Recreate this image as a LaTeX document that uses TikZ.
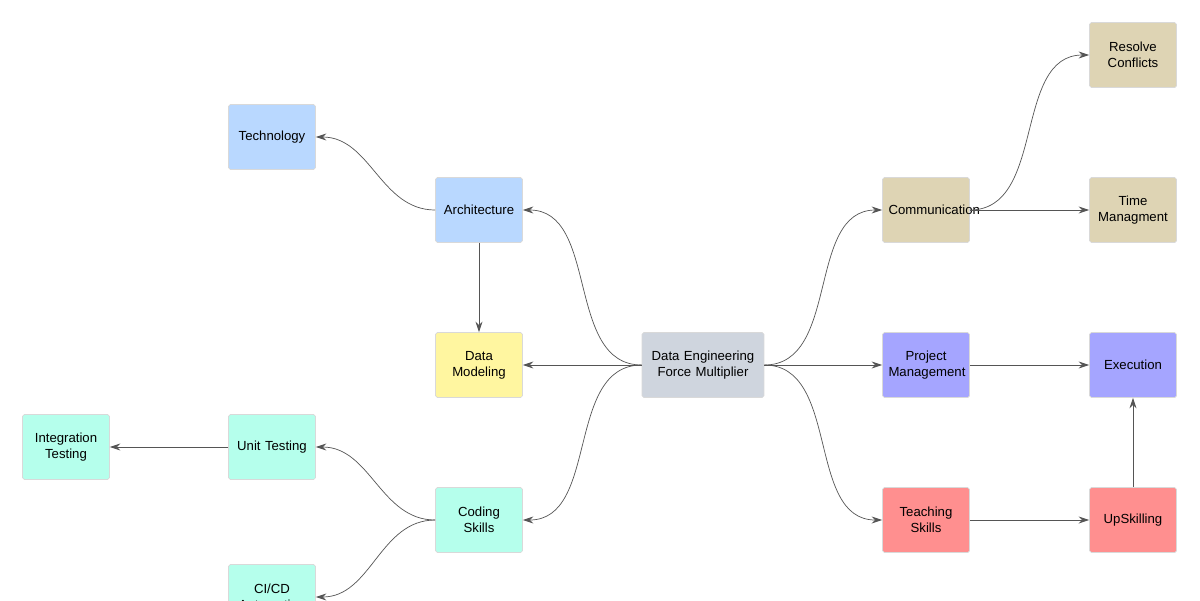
\documentclass[tikz,border=0pt]{standalone}
\usepackage{fontspec}
\setmainfont{Liberation Sans}
\usetikzlibrary{arrows.meta,positioning}
\definecolor{archblue}{HTML}{B9D8FF}
\definecolor{modyellow}{HTML}{FFF6A0}
\definecolor{codeteal}{HTML}{B5FFEC}
\definecolor{coregrey}{HTML}{CFD5DE}
\definecolor{commtan}{HTML}{DED4B4}
\definecolor{projpurple}{HTML}{A5A5FF}
\definecolor{teachred}{HTML}{FF8F8F}
\definecolor{linegrey}{HTML}{555555}
\begin{document}
\begin{tikzpicture}[x=0.02cm,y=-0.02cm,
	box/.style={draw=white!85!black,rounded corners=1pt,minimum width=1.74cm,minimum height=1.3cm,
		align=center,font=\fontsize{7.5}{9}\selectfont,text width=1.5cm,inner sep=1pt},
	link/.style={draw=linegrey,-{Stealth[length=6pt,width=4pt]}}]
		\clip (0,0) rectangle (1200,600);
		\fill[white] (0,0) rectangle (1200,600);
		% left side
		\node[box,fill=archblue] (tech) at (272,137) {Technology};
		\node[box,fill=archblue] (arch) at (479,210) {Architecture};
		\node[box,fill=modyellow] (model) at (479,365) {Data\\Modeling};
		\node[box,fill=codeteal] (code) at (479,520) {Coding Skills};
		\node[box,fill=codeteal] (unit) at (272,447) {Unit Testing};
		\node[box,fill=codeteal] (integ) at (66,447) {Integration\\Testing};
		\node[box,fill=codeteal] (cicd) at (272,597) {CI/CD\\Automation};
		% centre
		\node[box,fill=coregrey,minimum width=2.44cm,text width=2.3cm] (core) at (703,365) {Data Engineering\\Force Multiplier};
		% right side
		\node[box,fill=commtan] (comm) at (926,210) {Communication};
		\node[box,fill=projpurple] (proj) at (926,365) {Project\\Management};
		\node[box,fill=teachred] (teach) at (926,520) {Teaching\\Skills};
		\node[box,fill=commtan] (resolve) at (1133,55) {Resolve\\Conflicts};
		\node[box,fill=commtan] (time) at (1133,210) {Time\\Managment};
		\node[box,fill=projpurple] (exec) at (1133,365) {Execution};
		\node[box,fill=teachred] (upskill) at (1133,520) {UpSkilling};
		% connectors
		\draw[link] (core.west) to[out=180,in=0] (arch.east);
		\draw[link] (core.west) -- (model.east);
		\draw[link] (core.west) to[out=180,in=0] (code.east);
		\draw[link] (arch.west) to[out=180,in=0] (tech.east);
		\draw[link] (arch.south) -- (model.north);
		\draw[link] (code.west) to[out=180,in=0] (unit.east);
		\draw[link] (code.west) to[out=180,in=0] (cicd.east);
		\draw[link] (unit.west) -- (integ.east);
		\draw[link] (core.east) to[out=0,in=180] (comm.west);
		\draw[link] (core.east) -- (proj.west);
		\draw[link] (core.east) to[out=0,in=180] (teach.west);
		\draw[link] (comm.east) to[out=0,in=180] (resolve.west);
		\draw[link] (comm.east) -- (time.west);
		\draw[link] (proj.east) -- (exec.west);
		\draw[link] (teach.east) -- (upskill.west);
		\draw[link] (upskill.north) -- (exec.south);
\end{tikzpicture}
\end{document}
